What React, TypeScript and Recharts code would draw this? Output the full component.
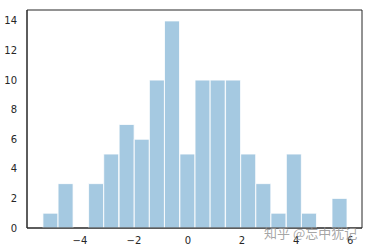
import { BarChart, Bar, XAxis, YAxis, ReferenceArea } from 'recharts';

// histogram bins (centre of each bin) and counts
const binCenters = [
  -5.09, -4.53, -3.96, -3.4, -2.84, -2.27, -1.71, -1.15, -0.59, -0.02,
  0.54, 1.1, 1.67, 2.23, 2.79, 3.35, 3.92, 4.48, 5.04, 5.61,
];
const counts = [1, 3, 0, 3, 5, 7, 6, 10, 14, 5, 10, 10, 10, 5, 3, 1, 5, 1, 0, 2];

const xTicks = [-4, -2, 0, 2, 4, 6];
const yTicks = [0, 2, 4, 6, 8, 10, 12, 14];

const xDomain: [number, number] = [-5.96, 6.44];
const yDomain: [number, number] = [0, 14.74];

const fmt = (v: number) => (v < 0 ? `\u2212${Math.abs(v)}` : `${v}`);

const axisColor = '#262626';
const tickStyle = { fill: axisColor, fontSize: 10, fontFamily: 'DejaVu Sans' };

export default function App() {
  const data = binCenters.map((x, i) => ({ x, count: counts[i] }));

  return (
    <div style={{ position: 'absolute', left: 0, top: 0, width: 372, height: 252, background: '#fff' }}>
      <BarChart
        width={372}
        height={252}
        data={data}
        margin={{ top: 10, right: 10, left: 0, bottom: 0 }}
        barCategoryGap={0}
        barGap={0}
      >
        <XAxis
          dataKey="x"
          type="number"
          domain={xDomain}
          ticks={xTicks}
          tickFormatter={fmt}
          tickLine={false}
          axisLine={{ stroke: axisColor }}
          tick={tickStyle}
          tickMargin={3}
          height={24}
          allowDataOverflow
        />
        <YAxis
          type="number"
          domain={yDomain}
          ticks={yTicks}
          tickLine={false}
          axisLine={{ stroke: axisColor }}
          tick={tickStyle}
          tickMargin={4}
          width={27}
          allowDataOverflow
        />
        <Bar
          dataKey="count"
          fill="#a5c9e1"
          stroke="#ffffff"
          strokeWidth={0.8}
          isAnimationActive={false}
        />
        {/* frame around the plot area */}
        <ReferenceArea
          x1={xDomain[0]}
          x2={xDomain[1]}
          y1={yDomain[0]}
          y2={yDomain[1]}
          fill="none"
          fillOpacity={0}
          stroke={axisColor}
          strokeWidth={1}
          strokeOpacity={1}
        />
      </BarChart>
      <div
        style={{
          position: 'absolute',
          left: 264,
          top: 223,
          fontFamily: 'Noto Sans CJK SC',
          fontSize: 13,
          color: 'rgba(150,150,150,0.85)',
          whiteSpace: 'nowrap',
        }}
      >
        知乎 @忘中犹记
      </div>
    </div>
  );
}
